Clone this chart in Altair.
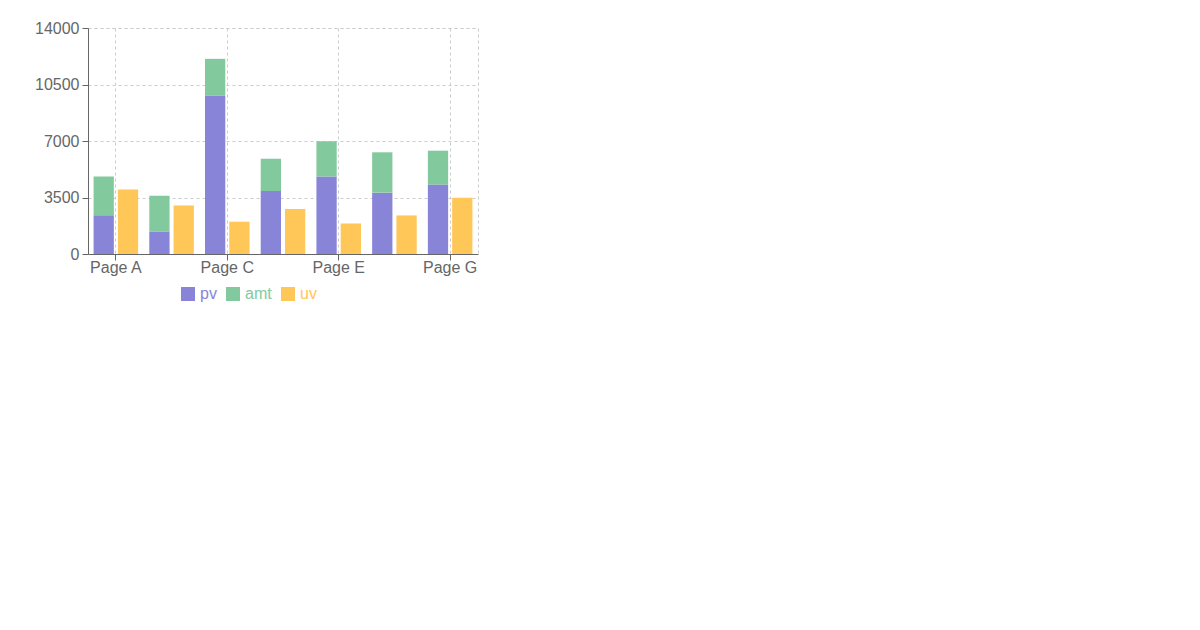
import altair as alt
import pandas as pd

pages = ["Page A", "Page B", "Page C", "Page D", "Page E", "Page F", "Page G"]
pv = [2400, 1398, 9800, 3908, 4800, 3800, 4300]
amt = [2400, 2210, 2290, 2000, 2181, 2500, 2100]
uv = [4000, 3000, 2000, 2780, 1890, 2390, 3490]

series_names = ["pv", "amt", "uv"]
series_colors = ["#8884d8", "#82ca9d", "#ffc658"]
y_ticks = [0, 3500, 7000, 10500, 14000]
x_ticks = ["Page A", "Page C", "Page E", "Page G"]

rows = []
for i, p in enumerate(pages):
    rows.append({"page": p, "series": "pv", "value": pv[i], "group": "a", "ord": 0})
    rows.append({"page": p, "series": "amt", "value": amt[i], "group": "a", "ord": 1})
    rows.append({"page": p, "series": "uv", "value": uv[i], "group": "b", "ord": 2})
df = pd.DataFrame(rows)

FONT = "Liberation Sans"
label_color_expr = (
    "datum.value == 'pv' ? '#8884d8' : datum.value == 'amt' ? '#82ca9d' : '#ffc658'"
)

chart = (
    alt.Chart(df)
    .mark_bar()
    .encode(
        x=alt.X(
            "page:N",
            sort=pages,
            scale=alt.Scale(paddingInner=0.2, paddingOuter=0.1),
            axis=alt.Axis(
                values=x_ticks,
                title=None,
                labelAngle=0,
                labelFontSize=16,
                labelColor="#666",
                labelFont=FONT,
                labelPadding=-1,
                tickColor="#666",
                tickSize=6,
                domainColor="#666",
                gridColor="#ccc",
                gridDash=[3, 3],
                grid=True,
            ),
        ),
        xOffset=alt.XOffset(
            "group:N", scale=alt.Scale(paddingInner=0.165, paddingOuter=0)
        ),
        y=alt.Y(
            "value:Q",
            stack="zero",
            scale=alt.Scale(domain=[0, 14000], nice=False),
            axis=alt.Axis(
                values=y_ticks,
                format="d",
                title=None,
                labelFontSize=16,
                labelColor="#666",
                labelFont=FONT,
                labelPadding=3,
                labelFlush=False,
                tickColor="#666",
                tickSize=6,
                domainColor="#666",
                gridColor="#ccc",
                gridDash=[3, 3],
            ),
        ),
        color=alt.Color(
            "series:N",
            scale=alt.Scale(domain=series_names, range=series_colors),
            legend=alt.Legend(
                title=None,
                orient="none",
                legendX=92,
                legendY=258,
                direction="horizontal",
                symbolType="square",
                symbolSize=196,
                symbolStrokeWidth=0,
                symbolOpacity=1,
                labelFontSize=16,
                labelFont=FONT,
                labelOffset=4,
                columnPadding=8,
                padding=0,
                labelColor=alt.ExprRef(label_color_expr),
            ),
        ),
        order=alt.Order("ord:Q", sort="ascending"),
    )
    .properties(
        width=390,
        height=226,
        autosize=alt.AutoSizeParams(type="none"),
        padding={"left": 80, "top": 20, "right": 20, "bottom": 90},
    )
    .configure_view(stroke="#ccc", strokeDash=[3, 3])
)

chart.save("out.html", embed_options={"renderer": "svg", "actions": False})
